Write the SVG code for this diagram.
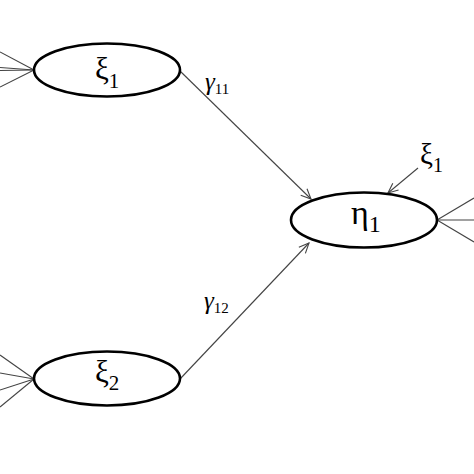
<svg xmlns="http://www.w3.org/2000/svg" width="474" height="474" viewBox="0 0 474 474">
<defs>
<marker id="arr" viewBox="0 0 12 12" refX="11" refY="6" markerWidth="12" markerHeight="12" markerUnits="userSpaceOnUse" orient="auto">
<path d="M1,1.5 L11,6 L1,10.5" fill="none" stroke="#444" stroke-width="1.1"/>
</marker>
</defs>
<style>
.node{fill:#fff;stroke:#000;stroke-width:2.6}
.ln{stroke:#444;stroke-width:1.1;fill:none}
.t{font-family:"Liberation Serif","DejaVu Serif",serif;fill:#000}
.g{font-family:"Liberation Serif","DejaVu Serif",serif;font-style:italic;fill:#000}
</style>
<rect width="474" height="474" fill="#fff"/>
<g id="connectors">
<line class="ln" x1="0" y1="52" x2="34" y2="70"/>
<line class="ln" x1="0" y1="67.5" x2="34" y2="70"/>
<line class="ln" x1="0" y1="70.5" x2="34" y2="70"/>
<line class="ln" x1="0" y1="87" x2="34" y2="70"/>
<line class="ln" x1="0" y1="355" x2="34" y2="379"/>
<line class="ln" x1="0" y1="373" x2="34" y2="379"/>
<line class="ln" x1="0" y1="390" x2="34" y2="379"/>
<line class="ln" x1="0" y1="407" x2="34" y2="379"/>
<line class="ln" x1="437" y1="220" x2="474" y2="198"/>
<line class="ln" x1="437" y1="220" x2="474" y2="220"/>
<line class="ln" x1="437" y1="220" x2="474" y2="242"/>
<line class="ln" x1="179" y1="70" x2="311" y2="199" marker-end="url(#arr)"/>
<line class="ln" x1="180" y1="379" x2="309" y2="243" marker-end="url(#arr)"/>
<line class="ln" x1="418" y1="168" x2="388" y2="193" marker-end="url(#arr)"/>
<text class="g" x="205" y="90" font-size="25">γ<tspan font-size="15" font-style="normal" dy="4">11</tspan></text>
<text class="g" x="204" y="309" font-size="25">γ<tspan font-size="15" font-style="normal" dy="4">12</tspan></text>
<text class="t" x="420" y="164" font-size="29">ξ<tspan font-size="20" dy="8">1</tspan></text>
</g>
<g id="xi1">
<ellipse class="node" cx="107" cy="70" rx="73" ry="26.5"/>
<text class="t" x="95" y="79" font-size="31">ξ<tspan font-size="21" dy="9">1</tspan></text>
</g>
<g id="xi2">
<ellipse class="node" cx="107" cy="378.5" rx="73" ry="27"/>
<text class="t" x="95" y="382" font-size="31">ξ<tspan font-size="21" dy="8">2</tspan></text>
</g>
<g id="eta1">
<ellipse class="node" cx="364" cy="220" rx="73" ry="27.5"/>
<text class="t" x="351" y="224" font-size="34">η<tspan font-size="24" dy="8">1</tspan></text>
</g>
</svg>
